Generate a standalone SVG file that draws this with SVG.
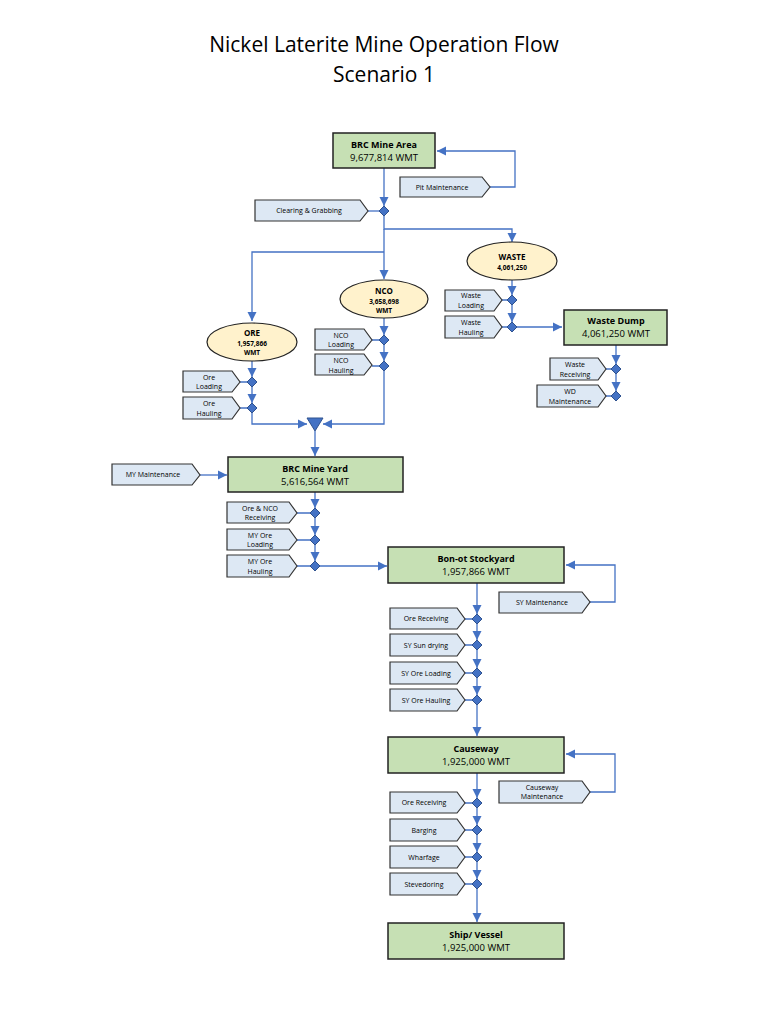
<svg xmlns="http://www.w3.org/2000/svg" width="768" height="1024" viewBox="0 0 768 1024">
<style>
.t{font-family:"Open Sans","Liberation Sans",sans-serif;fill:#000}
.title{font-size:21px;text-anchor:middle}
.bx{fill:#c6e0b4;stroke:#222;stroke-width:1.5}
.bt{font-size:9px;font-weight:bold;text-anchor:middle}
.bv{font-size:9.5px;text-anchor:middle}
.p{fill:#dde8f4;stroke:#333;stroke-width:1.2}
.pt{font-size:7px;text-anchor:middle}
.el{fill:#fff2cc;stroke:#222;stroke-width:1.2}
.et{font-size:8px;font-weight:bold;text-anchor:middle}
.ev{font-size:6.5px;font-weight:bold;text-anchor:middle}
.c{fill:none;stroke:#4472c4;stroke-width:1.3}
.d{fill:#4472c4;stroke:#2f528f;stroke-width:1}
</style>
<defs>
<marker id="a" viewBox="0 0 10 10" refX="10" refY="5" markerWidth="7" markerHeight="7" orient="auto"><path d="M0,0 L10,5 L0,10 z" fill="#4472c4"/></marker>
</defs>
<rect width="768" height="1024" fill="#fff"/>
<text class="t title" x="384" y="52">Nickel Laterite Mine Operation Flow</text>
<text class="t title" x="384" y="82">Scenario 1</text>

<g id="connectors">
<path class="c" d="M384,168 V206" marker-end="url(#a)"/>
<path class="c" d="M490,187 H515 V151 H437" marker-end="url(#a)"/>
<path class="c" d="M368,211 H379"/>
<path class="c" d="M384,216 V229 H512 V242" marker-end="url(#a)"/>
<path class="c" d="M384,229 V279" marker-end="url(#a)"/>
<path class="c" d="M384,252 H252 V321" marker-end="url(#a)"/>
<path class="c" d="M512,280 V295" marker-end="url(#a)"/>
<path class="c" d="M512,305 V322" marker-end="url(#a)"/>
<path class="c" d="M502,300 H507 M502,327 H507"/>
<path class="c" d="M517,327 H562" marker-end="url(#a)"/>
<path class="c" d="M616,345 V364" marker-end="url(#a)"/>
<path class="c" d="M616,374 V391" marker-end="url(#a)"/>
<path class="c" d="M606,369 H611 M606,396 H611"/>
<path class="c" d="M384,318 V335" marker-end="url(#a)"/>
<path class="c" d="M384,345 V361" marker-end="url(#a)"/>
<path class="c" d="M372,340 H379 M372,366 H379"/>
<path class="c" d="M384,371 V424 H323" marker-end="url(#a)"/>
<path class="c" d="M252,361 V377" marker-end="url(#a)"/>
<path class="c" d="M252,387 V403" marker-end="url(#a)"/>
<path class="c" d="M240,382 H247 M240,408 H247"/>
<path class="c" d="M252,413 V424 H307" marker-end="url(#a)"/>
<path class="c" d="M315,431 V456" marker-end="url(#a)"/>
<path class="c" d="M200,475 H227" marker-end="url(#a)"/>
<path class="c" d="M315,492 V508" marker-end="url(#a)"/>
<path class="c" d="M315,518 V535" marker-end="url(#a)"/>
<path class="c" d="M315,545 V561" marker-end="url(#a)"/>
<path class="c" d="M297,513 H310 M297,540 H310 M297,566 H310"/>
<path class="c" d="M320,566 H387" marker-end="url(#a)"/>
<path class="c" d="M590,602 H615 V565 H566" marker-end="url(#a)"/>
<path class="c" d="M477,583 V614" marker-end="url(#a)"/>
<path class="c" d="M477,624 V640" marker-end="url(#a)"/>
<path class="c" d="M477,650 V668" marker-end="url(#a)"/>
<path class="c" d="M477,678 V695" marker-end="url(#a)"/>
<path class="c" d="M477,705 V736" marker-end="url(#a)"/>
<path class="c" d="M465,619 H472 M465,645 H472 M465,673 H472 M465,700 H472"/>
<path class="c" d="M590,792 H615 V754 H566" marker-end="url(#a)"/>
<path class="c" d="M477,773 V798" marker-end="url(#a)"/>
<path class="c" d="M477,808 V825" marker-end="url(#a)"/>
<path class="c" d="M477,835 V852" marker-end="url(#a)"/>
<path class="c" d="M477,862 V879" marker-end="url(#a)"/>
<path class="c" d="M477,889 V922" marker-end="url(#a)"/>
<path class="c" d="M465,803 H472 M465,830 H472 M465,857 H472 M465,884 H472"/>
</g>

<g id="diamonds">
<path class="d" d="M384,206 l5,5 l-5,5 l-5,-5z"/>
<path class="d" d="M512,295 l5,5 l-5,5 l-5,-5z"/>
<path class="d" d="M512,322 l5,5 l-5,5 l-5,-5z"/>
<path class="d" d="M616,364 l5,5 l-5,5 l-5,-5z"/>
<path class="d" d="M616,391 l5,5 l-5,5 l-5,-5z"/>
<path class="d" d="M384,335 l5,5 l-5,5 l-5,-5z"/>
<path class="d" d="M384,361 l5,5 l-5,5 l-5,-5z"/>
<path class="d" d="M252,377 l5,5 l-5,5 l-5,-5z"/>
<path class="d" d="M252,403 l5,5 l-5,5 l-5,-5z"/>
<path class="d" d="M315,508 l5,5 l-5,5 l-5,-5z"/>
<path class="d" d="M315,535 l5,5 l-5,5 l-5,-5z"/>
<path class="d" d="M315,561 l5,5 l-5,5 l-5,-5z"/>
<path class="d" d="M477,614 l5,5 l-5,5 l-5,-5z"/>
<path class="d" d="M477,640 l5,5 l-5,5 l-5,-5z"/>
<path class="d" d="M477,668 l5,5 l-5,5 l-5,-5z"/>
<path class="d" d="M477,695 l5,5 l-5,5 l-5,-5z"/>
<path class="d" d="M477,798 l5,5 l-5,5 l-5,-5z"/>
<path class="d" d="M477,825 l5,5 l-5,5 l-5,-5z"/>
<path class="d" d="M477,852 l5,5 l-5,5 l-5,-5z"/>
<path class="d" d="M477,879 l5,5 l-5,5 l-5,-5z"/>
<path id="merge" d="M307,418 H323 L315,431 z" fill="#4472c4" stroke="#2f528f"/>
</g>

<g id="brc-mine-area"><rect class="bx" x="333" y="133" width="102" height="35"/><text class="t bt" x="384" y="148">BRC Mine Area</text><text class="t bv" x="384" y="161">9,677,814 WMT</text></g>
<g id="waste-dump"><rect class="bx" x="564" y="310" width="103" height="35"/><text class="t bt" x="616" y="324">Waste Dump</text><text class="t bv" x="616" y="337">4,061,250 WMT</text></g>
<g id="brc-mine-yard"><rect class="bx" x="228" y="457" width="175" height="35"/><text class="t bt" x="315" y="472">BRC Mine Yard</text><text class="t bv" x="315" y="485">5,616,564 WMT</text></g>
<g id="bonot-stockyard"><rect class="bx" x="388" y="547" width="176" height="36"/><text class="t bt" x="476" y="562">Bon-ot Stockyard</text><text class="t bv" x="476" y="575">1,957,866 WMT</text></g>
<g id="causeway"><rect class="bx" x="388" y="737" width="176" height="36"/><text class="t bt" x="476" y="752">Causeway</text><text class="t bv" x="476" y="765">1,925,000 WMT</text></g>
<g id="ship"><rect class="bx" x="388" y="923" width="176" height="36"/><text class="t bt" x="476" y="938">Ship/ Vessel</text><text class="t bv" x="476" y="951">1,925,000 WMT</text></g>

<g id="waste"><ellipse class="el" cx="512" cy="261" rx="45" ry="19"/><text class="t et" x="512" y="260">WASTE</text><text class="t ev" x="512" y="270">4,061,250</text></g>
<g id="nco"><ellipse class="el" cx="384" cy="299" rx="44" ry="19"/><text class="t et" x="384" y="294">NCO</text><text class="t ev" x="384" y="304">3,658,698</text><text class="t ev" x="384" y="313">WMT</text></g>
<g id="ore"><ellipse class="el" cx="252" cy="342" rx="45" ry="19"/><text class="t et" x="252" y="336">ORE</text><text class="t ev" x="252" y="346">1,957,866</text><text class="t ev" x="252" y="355">WMT</text></g>

<g id="pit-maintenance"><path class="p" d="M400,177 H482 L490,187 L482,197 H400 z"/><text class="t pt" x="442" y="190">Pit Maintenance</text></g>
<g id="clearing"><path class="p" d="M255,200 H360 L368,211 L360,221 H255 z"/><text class="t pt" x="309" y="213">Clearing &amp; Grabbing</text></g>
<g id="waste-loading"><path class="p" d="M445,290 H494 L502,300 L494,311 H445 z"/><text class="t pt" x="471" y="298">Waste</text><text class="t pt" x="471" y="308">Loading</text></g>
<g id="waste-hauling"><path class="p" d="M445,316 H494 L502,327 L494,338 H445 z"/><text class="t pt" x="471" y="325">Waste</text><text class="t pt" x="471" y="335">Hauling</text></g>
<g id="waste-receiving"><path class="p" d="M550,358 H598 L606,369 L598,380 H550 z"/><text class="t pt" x="575" y="367">Waste</text><text class="t pt" x="575" y="377">Receiving</text></g>
<g id="wd-maintenance"><path class="p" d="M537,385 H598 L606,396 L598,407 H537 z"/><text class="t pt" x="570" y="394">WD</text><text class="t pt" x="570" y="404">Maintenance</text></g>
<g id="nco-loading"><path class="p" d="M315,329 H364 L372,340 L364,350 H315 z"/><text class="t pt" x="341" y="338">NCO</text><text class="t pt" x="341" y="347">Loading</text></g>
<g id="nco-hauling"><path class="p" d="M315,354 H364 L372,365 L364,375 H315 z"/><text class="t pt" x="341" y="363">NCO</text><text class="t pt" x="341" y="373">Hauling</text></g>
<g id="ore-loading"><path class="p" d="M183,371 H232 L240,382 L232,392 H183 z"/><text class="t pt" x="209" y="380">Ore</text><text class="t pt" x="209" y="389">Loading</text></g>
<g id="ore-hauling"><path class="p" d="M183,397 H232 L240,408 L232,419 H183 z"/><text class="t pt" x="209" y="406">Ore</text><text class="t pt" x="209" y="416">Hauling</text></g>
<g id="my-maintenance"><path class="p" d="M112,464 H192 L200,475 L192,485 H112 z"/><text class="t pt" x="153" y="477">MY Maintenance</text></g>
<g id="ore-nco-receiving"><path class="p" d="M227,502 H289 L297,513 L289,523 H227 z"/><text class="t pt" x="260" y="511">Ore &amp; NCO</text><text class="t pt" x="260" y="520">Receiving</text></g>
<g id="my-ore-loading"><path class="p" d="M227,529 H289 L297,540 L289,550 H227 z"/><text class="t pt" x="260" y="538">MY Ore</text><text class="t pt" x="260" y="547">Loading</text></g>
<g id="my-ore-hauling"><path class="p" d="M227,555 H289 L297,566 L289,577 H227 z"/><text class="t pt" x="260" y="564">MY Ore</text><text class="t pt" x="260" y="574">Hauling</text></g>
<g id="sy-maintenance"><path class="p" d="M499,592 H582 L590,602 L582,613 H499 z"/><text class="t pt" x="542" y="605">SY Maintenance</text></g>
<g id="sy-ore-receiving"><path class="p" d="M390,608 H457 L465,619 L457,629 H390 z"/><text class="t pt" x="426" y="621">Ore Receiving</text></g>
<g id="sy-sun-drying"><path class="p" d="M390,634 H457 L465,645 L457,656 H390 z"/><text class="t pt" x="426" y="648">SY Sun drying</text></g>
<g id="sy-ore-loading"><path class="p" d="M390,662 H457 L465,673 L457,684 H390 z"/><text class="t pt" x="426" y="676">SY Ore Loading</text></g>
<g id="sy-ore-hauling"><path class="p" d="M390,689 H457 L465,700 L457,711 H390 z"/><text class="t pt" x="426" y="703">SY Ore Hauling</text></g>
<g id="causeway-maintenance"><path class="p" d="M499,781 H582 L590,792 L582,803 H499 z"/><text class="t pt" x="542" y="790">Causeway</text><text class="t pt" x="542" y="799">Maintenance</text></g>
<g id="cw-ore-receiving"><path class="p" d="M390,792 H457 L465,803 L457,813 H390 z"/><text class="t pt" x="424" y="805">Ore Receiving</text></g>
<g id="barging"><path class="p" d="M390,819 H457 L465,830 L457,841 H390 z"/><text class="t pt" x="424" y="833">Barging</text></g>
<g id="wharfage"><path class="p" d="M390,846 H457 L465,857 L457,868 H390 z"/><text class="t pt" x="424" y="860">Wharfage</text></g>
<g id="stevedoring"><path class="p" d="M390,873 H457 L465,884 L457,895 H390 z"/><text class="t pt" x="424" y="887">Stevedoring</text></g>
</svg>
